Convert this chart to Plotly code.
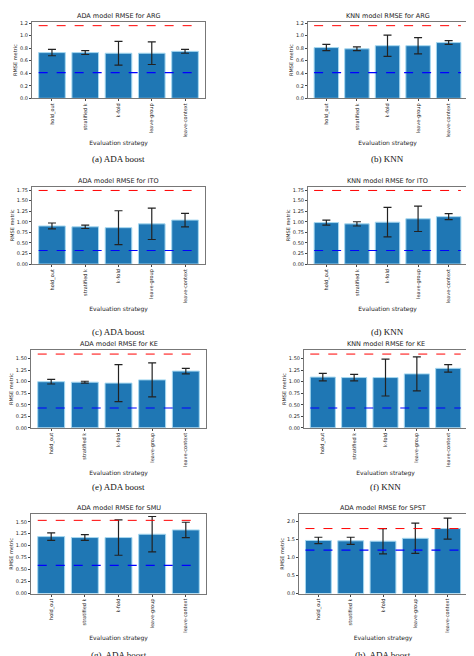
import plotly.graph_objects as go
from plotly.subplots import make_subplots

strategies = ["hold_out", "stratified k", "k-fold", "leave-group", "leave-context"]

titles = ["ADA model RMSE for ARG", "KNN model RMSE for ARG",
          "ADA model RMSE for ITO", "KNN model RMSE for ITO",
          "ADA model RMSE for KE", "KNN model RMSE for KE",
          "ADA model RMSE for SMU", "ADA model RMSE for SPST"]
captions = ["(a) ADA boost", "(b) KNN", "(c) ADA boost", "(d) KNN",
            "(e) ADA boost", "(f) KNN", "(g). ADA boost", "(h). ADA boost"]

rmse = [
    [0.73, 0.73, 0.72, 0.72, 0.75],
    [0.81, 0.79, 0.84, 0.84, 0.89],
    [0.90, 0.88, 0.86, 0.95, 1.04],
    [0.98, 0.95, 0.99, 1.07, 1.12],
    [1.00, 0.99, 0.97, 1.04, 1.23],
    [1.10, 1.09, 1.09, 1.17, 1.29],
    [1.19, 1.17, 1.17, 1.24, 1.33],
    [1.47, 1.46, 1.45, 1.53, 1.80],
]
err = [
    [0.05, 0.03, 0.19, 0.18, 0.03],
    [0.05, 0.03, 0.17, 0.13, 0.03],
    [0.07, 0.04, 0.40, 0.37, 0.16],
    [0.06, 0.05, 0.35, 0.30, 0.07],
    [0.05, 0.02, 0.40, 0.37, 0.06],
    [0.08, 0.07, 0.40, 0.37, 0.08],
    [0.08, 0.06, 0.37, 0.37, 0.16],
    [0.09, 0.10, 0.35, 0.42, 0.29],
]
upper = [1.16, 1.16, 1.74, 1.74, 1.60, 1.60, 1.53, 1.80]
lower = [0.41, 0.41, 0.32, 0.32, 0.43, 0.43, 0.59, 1.20]
ymax = [1.22, 1.22, 1.83, 1.83, 1.68, 1.68, 1.66, 2.2]
ytick_step = [0.2, 0.2, 0.25, 0.25, 0.25, 0.25, 0.25, 0.5]

# pixel boxes (left, right, top, bottom) for each plot area
boxes = [(24, 197, 12, 89), (300, 459, 12, 89),
         (24, 197, 178, 256), (300, 459, 178, 256),
         (23, 198, 343, 421), (296, 459, 343, 421),
         (23, 198, 508, 588), (291, 459, 508, 588)]
cap_y = [150, 324, 481, 650]
W, H = 474, 656

fig = make_subplots(rows=4, cols=2)
for i in range(8):
    r, c = i // 2 + 1, i % 2 + 1
    xs = list(range(5))
    fig.add_trace(go.Bar(x=xs, y=rmse[i], width=0.8, marker_color="#1f77b4",
                         marker_line=dict(color="#a6d8f0", width=1),
                         error_y=dict(type="data", array=err[i], color="#222",
                                      thickness=1.2, width=4)), row=r, col=c)
    fig.add_trace(go.Scatter(x=[-0.4, 4.4], y=[upper[i]] * 2, mode="lines",
                             line=dict(color="red", dash="dash", width=1)), row=r, col=c)
    fig.add_trace(go.Scatter(x=[-0.4, 4.4], y=[lower[i]] * 2, mode="lines",
                             line=dict(color="blue", dash="dash", width=1.2)), row=r, col=c)
    l, rr, t, b = boxes[i]
    ax = "" if i == 0 else str(i + 1)
    fig.layout["xaxis" + ax].update(domain=[l / W, rr / W], range=[-0.6, 4.6],
                                    tickvals=xs, ticktext=strategies, tickangle=-90,
                                    tickfont=dict(size=5), showline=True, mirror=True,
                                    linecolor="#777", ticks="outside", ticklen=2,
                                    title=dict(text="Evaluation strategy", font=dict(size=6), standoff=4))
    fig.layout["yaxis" + ax].update(domain=[1 - b / H, 1 - t / H], range=[0, ymax[i]],
                                    dtick=ytick_step[i], tickformat=".2f" if ytick_step[i] == 0.25 else ".1f",
                                    tickfont=dict(size=5), showline=True, mirror=True,
                                    linecolor="#777", ticks="outside", ticklen=2, showgrid=False,
                                    zeroline=False,
                                    title=dict(text="RMSE metric", font=dict(size=5), standoff=2))
    fig.add_annotation(x=(l + rr) / 2 / W, y=1 - (t - 6) / H, xref="paper", yref="paper",
                       xanchor="center", yanchor="middle",
                       text=titles[i], showarrow=False, font=dict(size=6.5, color="#222"))
    fig.add_annotation(x=(l + rr) / 2 / W, y=1 - cap_y[i // 2] / H, xref="paper", yref="paper",
                       xanchor="center", yanchor="middle",
                       text=captions[i], showarrow=False,
                       font=dict(size=9, family="Liberation Serif", color="#111"))

fig.update_layout(width=W, height=H, margin=dict(l=0, r=0, t=0, b=0),
                  plot_bgcolor="white", paper_bgcolor="white", showlegend=False,
                  font=dict(family="DejaVu Sans", color="#222"))
fig.write_html("out.html")
